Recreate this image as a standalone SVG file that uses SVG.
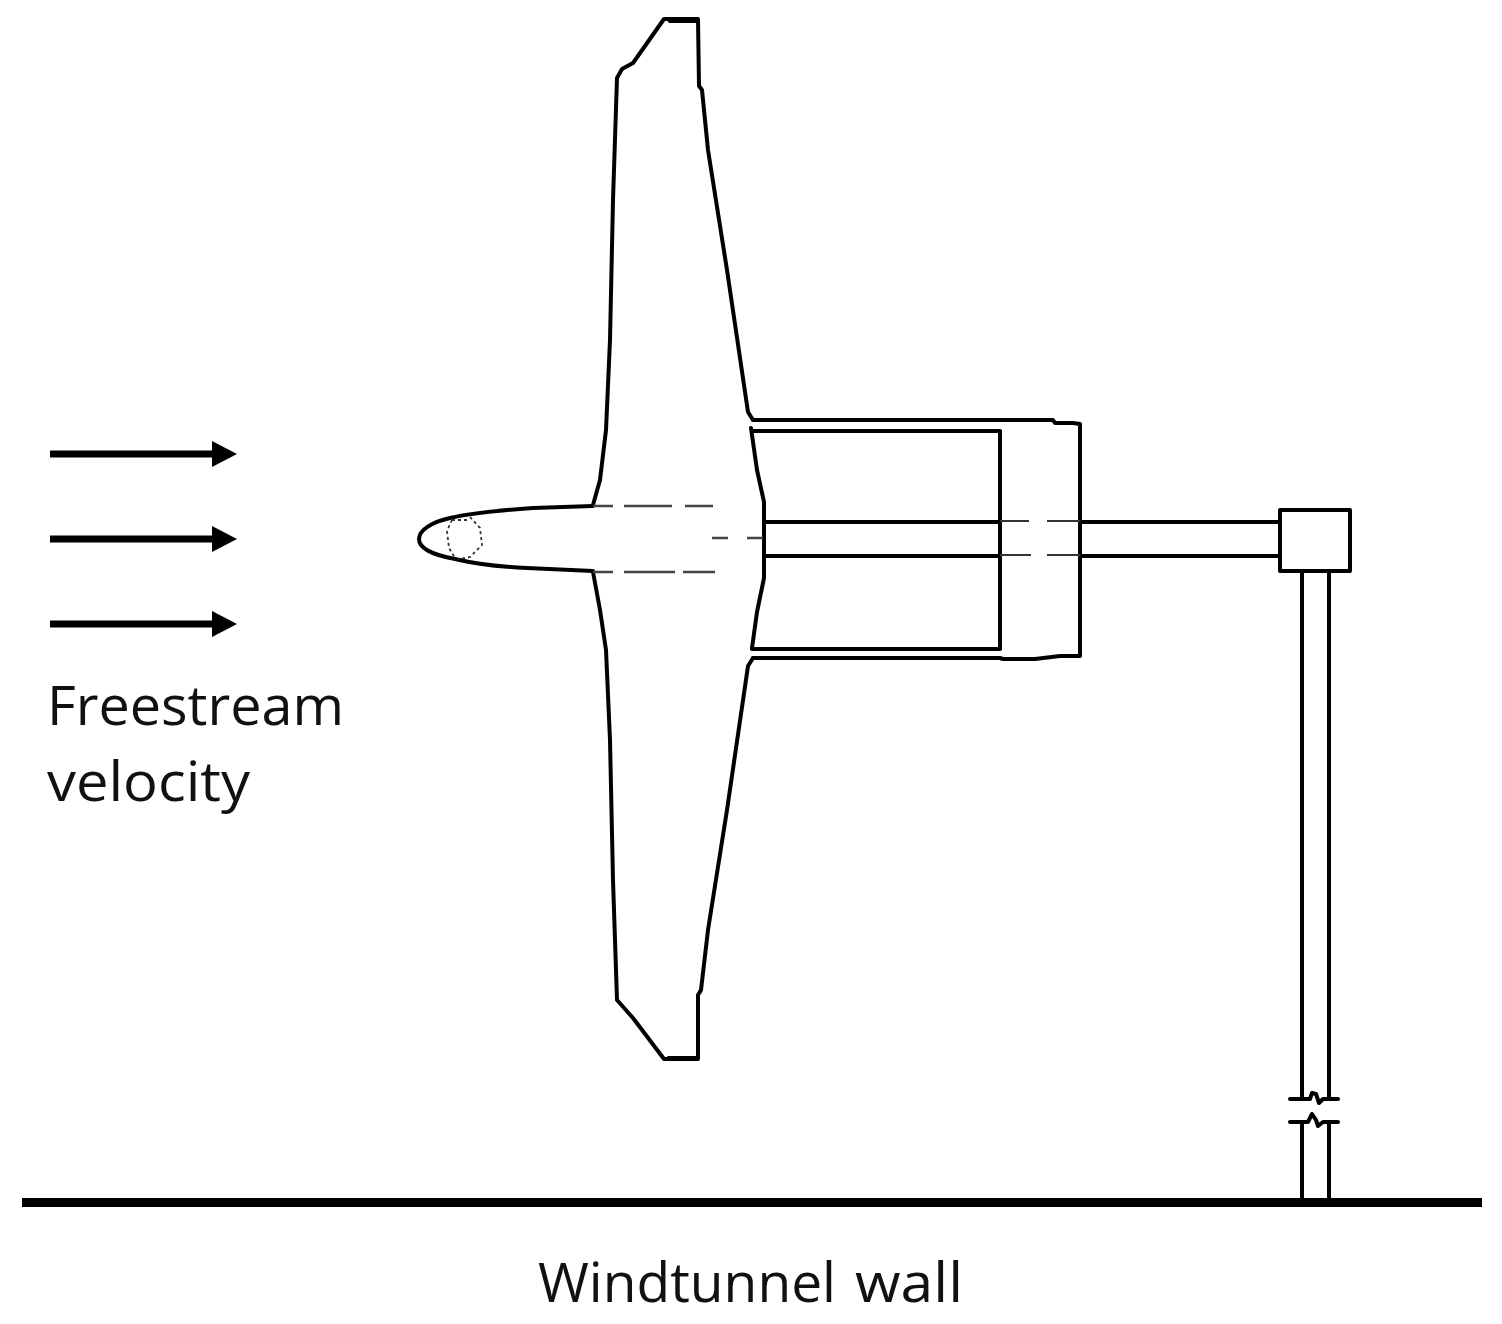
<svg xmlns="http://www.w3.org/2000/svg" width="1502" height="1324" viewBox="0 0 1502 1324">
<style>
.l{fill:none;stroke:#000;stroke-width:4;stroke-linejoin:round;stroke-linecap:round}
.d{fill:none;stroke:#444;stroke-width:2.6}
.s{fill:none;stroke:#333;stroke-width:2}
.o{fill:none;stroke:#333;stroke-width:1.8;stroke-dasharray:3 3}
.a{fill:none;stroke:#000;stroke-width:7}
.h{fill:#000}
text{font-family:"Open Sans","Noto Sans","Liberation Sans",sans-serif;font-size:55px;fill:#111}
</style>
<rect width="1502" height="1324" fill="#fff"/>
<g id="wing">
<path class="l" d="M593 505L600 480L606 430L610 340L613 200L617 78L622 69L633 63L664 19H698L699 86L702 90L708 150L727 270L748 412L753 420"/>
<path class="l" d="M751 428L757 470L764 502V578L757 612L752 648"/>
<path class="l" d="M753 658L748 666L727 810L708 930L701 990L698 995V1059H664L633 1018L617 1000L613 880L610 740L606 650L600 610L593 572"/>
<path class="h" d="M665 18H697V23H669ZM667 1056H696V1060H670Z"/>
</g>
<g id="fuselage">
<path class="l" d="M593 506L533 508C505 510 472 513 450 518C432 522 419 530 419 539C419 548 432 555 455 559C480 565 505 567 527 568L593 571"/>
<path class="d" d="M593 506H613M624 506H672M685 506H713M593 572H613M624 572H675M683 572H715M712 538H728M747 538H763"/>
<path class="o" d="M452 520L447 531L449 548L455 558M470 517L480 528L482 545L470 557L458 559M452 520H470"/>
</g>
<g id="tail">
<path class="l" d="M753 420H1053L1055 423H1073L1080 424V656H1060L1035 659H1003L1000 658H753"/>
<path class="l" d="M752 431H1000V649H752"/>
</g>
<g id="sting">
<path class="l" d="M764 522H1000M764 556H1000"/>
<path class="s" d="M1000 521H1029M1047 521H1082M1000 555H1031M1047 555H1082"/>
<path class="l" d="M1082 522H1280M1082 556H1280"/>
<rect class="l" x="1280" y="510" width="70" height="61"/>
<path class="l" d="M1302 571V1099M1329 571V1099M1302 1122V1199M1329 1122V1199"/>
<path class="l" d="M1290 1099H1310L1312 1093L1316 1094L1319 1103L1323 1099H1338"/>
<path class="l" d="M1290 1122H1308L1312 1114L1316 1120L1318 1126L1323 1122H1338"/>
</g>
<g id="wall">
<rect class="h" x="22" y="1198" width="1460" height="9"/>
</g>
<g id="arrows">
<path class="a" d="M50 454H214M50 539H214M50 624H214"/>
<path class="h" d="M212 441L237 454L212 467ZM212 526L237 539L212 552ZM212 611L237 624L212 637Z"/>
</g>
<g id="labels">
<text x="47" y="725" textLength="297" lengthAdjust="spacingAndGlyphs">Freestream</text>
<text x="47" y="801" textLength="203" lengthAdjust="spacingAndGlyphs">velocity</text>
<text x="538" y="1302" textLength="298" lengthAdjust="spacingAndGlyphs">Windtunnel</text>
<text x="855" y="1302" textLength="108" lengthAdjust="spacingAndGlyphs">wall</text>
</g>
</svg>
